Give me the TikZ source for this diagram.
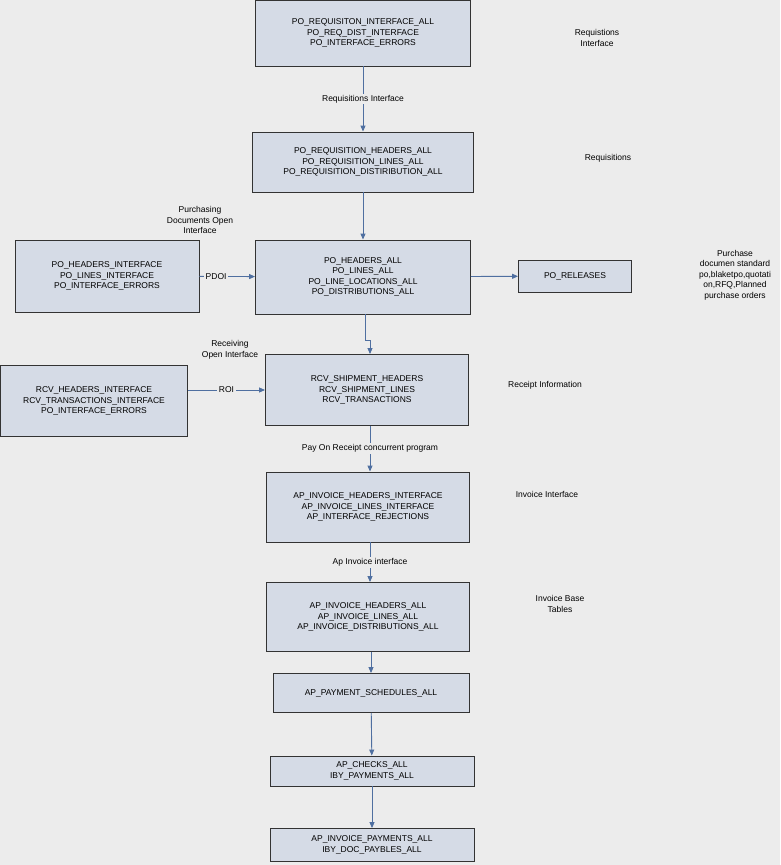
\documentclass[tikz,border=0pt]{standalone}
\usepackage{fontspec}
\setmainfont{Liberation Sans}
\usetikzlibrary{arrows.meta}
\definecolor{bgc}{HTML}{ECECEC}
\definecolor{boxc}{HTML}{D5DBE6}
\definecolor{arrc}{HTML}{4F6FA0}
\begin{document}
\begin{tikzpicture}[x=1pt,y=-1pt,font=\fontsize{8.5}{10.5}\selectfont]
\tikzset{tbl/.style={draw=black!80,line width=0.9pt,fill=boxc,align=center,inner sep=0pt},
  lbl/.style={align=center,inner sep=1pt},
  flow/.style={draw=arrc,line width=0.9pt,-{Triangle[width=5pt,length=6pt]}},
  on/.style={fill=bgc,inner sep=1.5pt}}
\fill [bgc] (0,0) rectangle (780,865);
\useasboundingbox (0,0) rectangle (780,865);
\node [tbl,minimum width=215,minimum height=66] (reqif) at (363,33) {PO\_REQUISITON\_INTERFACE\_ALL\\PO\_REQ\_DIST\_INTERFACE\\PO\_INTERFACE\_ERRORS};
\node [tbl,minimum width=221,minimum height=60] (req) at (363,162) {PO\_REQUISITION\_HEADERS\_ALL\\PO\_REQUISITION\_LINES\_ALL\\PO\_REQUISITION\_DISTIRIBUTION\_ALL};
\node [tbl,minimum width=215,minimum height=74] (po) at (363,277) {PO\_HEADERS\_ALL\\PO\_LINES\_ALL\\PO\_LINE\_LOCATIONS\_ALL\\PO\_DISTRIBUTIONS\_ALL};
\node [tbl,minimum width=184,minimum height=72] (pdoi) at (107,276) {PO\_HEADERS\_INTERFACE\\PO\_LINES\_INTERFACE\\PO\_INTERFACE\_ERRORS};
\node [tbl,minimum width=113,minimum height=32] (rel) at (575,276) {PO\_RELEASES};
\node [tbl,minimum width=203,minimum height=71] (rcv) at (367,390) {RCV\_SHIPMENT\_HEADERS\\RCV\_SHIPMENT\_LINES\\RCV\_TRANSACTIONS};
\node [tbl,minimum width=187,minimum height=71] (roi) at (94,401) {RCV\_HEADERS\_INTERFACE\\RCV\_TRANSACTIONS\_INTERFACE\\PO\_INTERFACE\_ERRORS};
\node [tbl,minimum width=203,minimum height=70] (apif) at (368,507) {AP\_INVOICE\_HEADERS\_INTERFACE\\AP\_INVOICE\_LINES\_INTERFACE\\AP\_INTERFACE\_REJECTIONS};
\node [tbl,minimum width=203,minimum height=69] (apinv) at (368,617) {AP\_INVOICE\_HEADERS\_ALL\\AP\_INVOICE\_LINES\_ALL\\AP\_INVOICE\_DISTRIBUTIONS\_ALL};
\node [tbl,minimum width=196,minimum height=39] (sched) at (371,693) {AP\_PAYMENT\_SCHEDULES\_ALL};
\node [tbl,minimum width=204,minimum height=30] (chk) at (372,771) {AP\_CHECKS\_ALL\\IBY\_PAYMENTS\_ALL};
\node [tbl,minimum width=204,minimum height=33] (pay) at (372,845) {AP\_INVOICE\_PAYMENTS\_ALL\\IBY\_DOC\_PAYBLES\_ALL};
% side notes
\node [lbl] (n1) at (597,38) {Requistions\\Interface};
\node [lbl] (n2) at (608,158) {Requisitions};
\node [lbl] (n3) at (200,220) {Purchasing\\Documents Open\\Interface};
\node [lbl] (n4) at (735,275) {Purchase\\documen standard\\po,blaketpo,quotati\\on,RFQ,Planned\\purchase orders};
\node [lbl] (n5) at (230,350) {Receiving\\Open Interface};
\node [lbl] (n6) at (545,385) {Receipt Information};
\node [lbl] (n7) at (547,494) {Invoice Interface};
\node [lbl] (n8) at (560,604) {Invoice Base\\Tables};
% flow
\draw [flow] (reqif) -- node [on] {Requisitions Interface} (req);
\draw [flow] (req) -- (po);
\draw [flow] (pdoi) -- node [on,pos=0.3] {PDOI} (po);
\draw [flow] (po) -- (rel);
\draw [flow] ([xshift=2]po.south) |- (370,340) -- (rcv.north-|370,0);
\draw [flow] (roi.east|-rcv.west) -- node [on] {ROI} (rcv.west);
\draw [flow] (rcv.south-|370,0) -- node [on] {Pay On Receipt concurrent program} (apif.north-|370,0);
\draw [flow] (apif.south-|370,0) -- node [on] {Ap Invoice interface} (apinv.north-|370,0);
\draw [flow] (apinv.south-|371,0) -- (sched);
\draw [flow] (sched) -- (chk);
\draw [flow] (chk) -- (pay);
\end{tikzpicture}
\end{document}
